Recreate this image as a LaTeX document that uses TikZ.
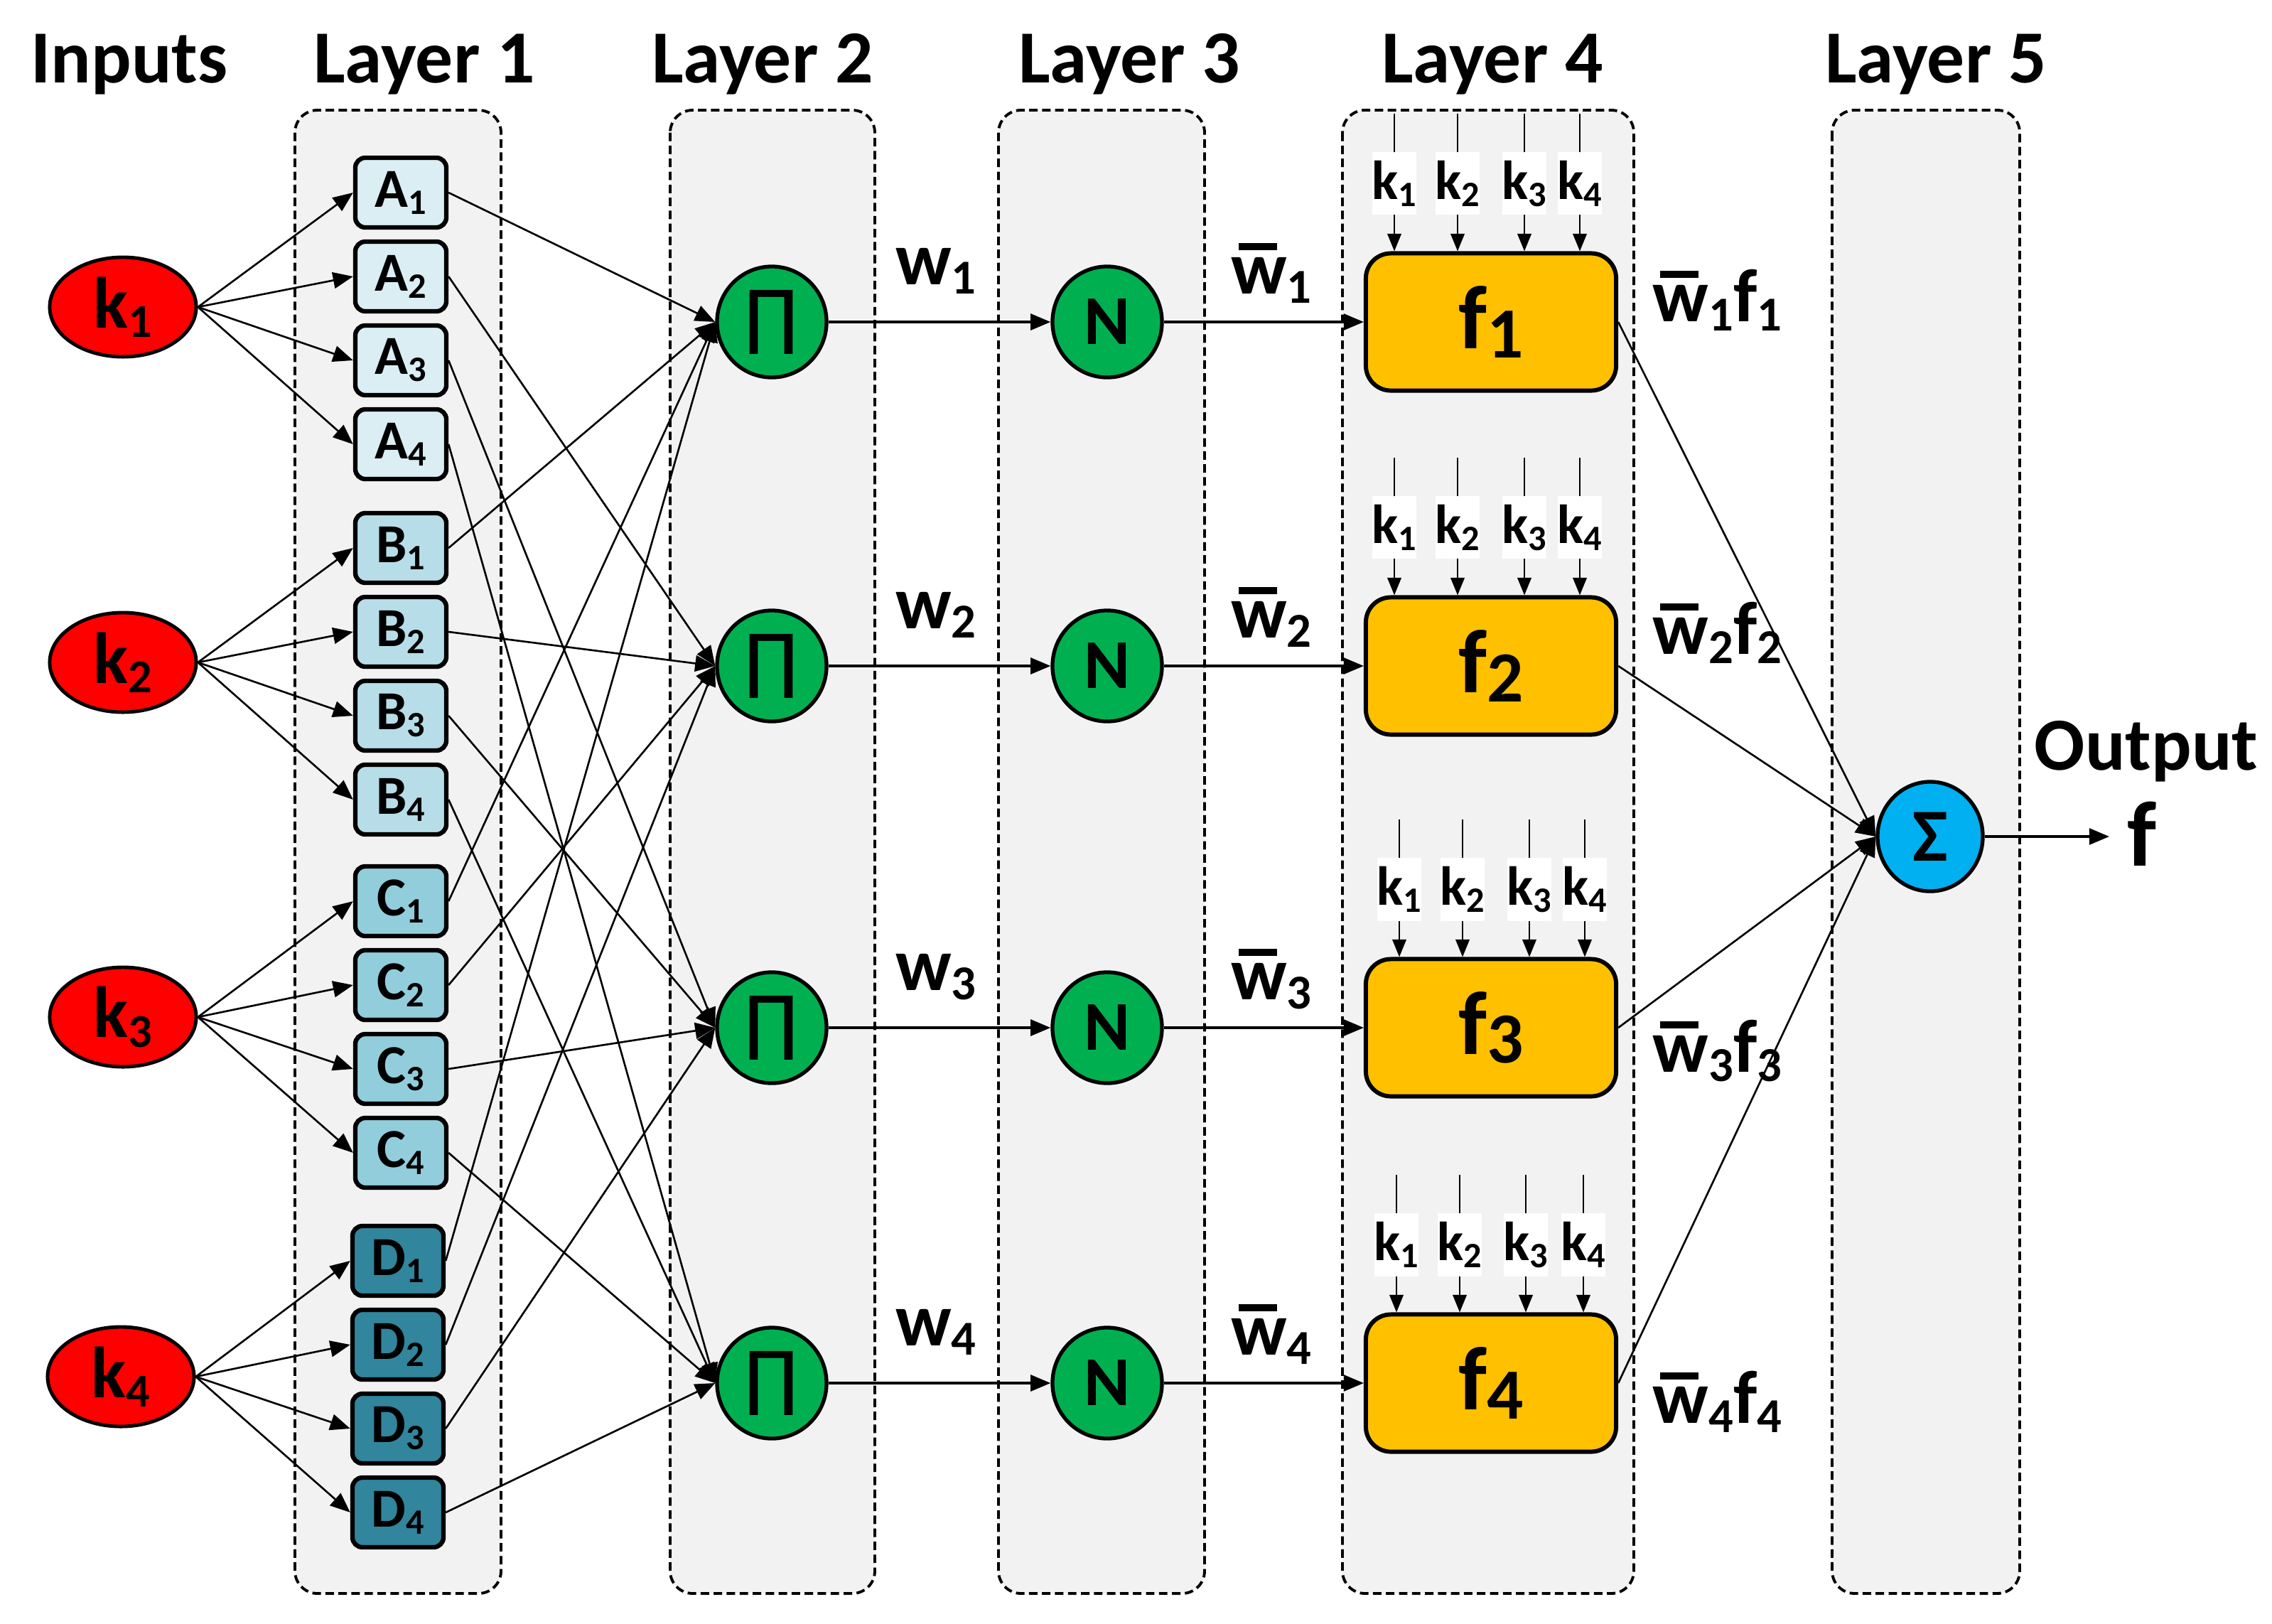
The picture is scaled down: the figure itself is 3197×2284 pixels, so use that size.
\documentclass[tikz,border=0pt]{standalone}
\usepackage{fontspec}
\setmainfont{Carlito}
\newfontfamily\djv{DejaVu Sans}
\usetikzlibrary{arrows.meta,shapes.geometric,calc}
\definecolor{layergray}{HTML}{F2F2F2}
\definecolor{inred}{HTML}{FF0000}
\definecolor{rulegreen}{HTML}{00B050}
\definecolor{forange}{HTML}{FFC000}
\definecolor{sblue}{HTML}{00B0F0}
\definecolor{cA}{HTML}{DAEEF3}
\definecolor{cB}{HTML}{B7DEE8}
\definecolor{cC}{HTML}{92CDDC}
\definecolor{cD}{HTML}{31859C}
\newcommand\sbs[1]{\raisebox{-0.13em}{\scalebox{0.65}{#1}}}
\newcommand\sbf[1]{\raisebox{-0.1em}{\scalebox{0.8}{#1}}}
\newcommand\wbar{\makebox[0pt][l]{\hspace{0.1em}\rule[0.58em]{0.51em}{0.09em}}w}
\newcommand\prodglyph{\resizebox*{0.76cm}{0.9cm}{\djv\mdseries ∏}}
\tikzset{
  fs/.style={font=\fontsize{#1}{#1}\selectfont\bfseries},
  layerbox/.style={draw, line width=1.1pt, dash pattern=on 3.4pt off 1.8pt, fill=layergray, rounded corners=9pt},
  title/.style={fs=30, anchor=base, inner sep=0pt},
  inp/.style={ellipse, draw, line width=1.4pt, fill=inred, minimum width=2.06cm, minimum height=1.4cm, inner sep=0pt, fs=29},
  mf/.style={rectangle, rounded corners=4pt, draw, line width=1.8pt, minimum width=1.28cm, minimum height=0.98cm, inner sep=0pt, fs=22},
  rulenode/.style={ellipse, draw, line width=1.5pt, fill=rulegreen, minimum width=1.54cm, minimum height=1.56cm, inner sep=0pt},
  fbox/.style={rectangle, rounded corners=10pt, draw, line width=1.7pt, fill=forange, minimum width=3.52cm, minimum height=1.93cm, inner sep=0pt, fs=36},
  sumnode/.style={ellipse, draw, line width=1.5pt, fill=sblue, minimum width=1.48cm, minimum height=1.54cm, inner sep=0pt, fs=30},
  klabel/.style={fill=white, minimum width=0.56cm, minimum height=0.88cm, inner sep=0pt, fs=22},
  lab/.style={fs=30, inner sep=0pt},
  arr/.style={-{Triangle[length=8pt,width=6.5pt]}},
  edge/.style={arr, line width=0.75pt},
  hedge/.style={arr, line width=0.9pt},
  karr/.style={-{Triangle[length=7pt,width=5.5pt]}, line width=0.8pt},
}
\begin{document}
\begin{tikzpicture}[x=0.01cm,y=-0.01cm]
\useasboundingbox (0,0) rectangle (3197,2284);
% layer boxes
\path[layerbox] (415,155) rectangle (705,2242);
\path[layerbox] (943,155) rectangle (1231,2242);
\path[layerbox] (1405,155) rectangle (1695,2242);
\path[layerbox] (1889,155) rectangle (2299,2242);
\path[layerbox] (2578,155) rectangle (2842,2242);
% titles
\node[title] (tin) at (182,116) {Inputs};
\node[title] (tl1) at (597,116) {Layer 1};
\node[title] (tl2) at (1073,116) {Layer 2};
\node[title] (tl3) at (1589,116) {Layer 3};
\node[title] (tl4) at (2100,116) {Layer 4};
\node[title] (tl5) at (2724,116) {Layer 5};
% inputs
\node[inp] (k1) at (173,432) {k\sbs{1}};
\node[inp] (k2) at (173,932) {k\sbs{2}};
\node[inp] (k3) at (173,1431) {k\sbs{3}};
\node[inp] (k4) at (170,1937) {k\sbs{4}};
% membership boxes
\foreach \g/\y/\c/\x in {A/271/cA/564, B/771/cB/564, C/1268/cC/564, D/1774/cD/560}{
  \foreach \j in {1,...,4}{
    \node[mf, fill=\c] (\g\j) at (\x,{\y+118*(\j-1)}) {\g\sbs{\j}};
  }
}
% rows
\foreach \i/\y in {1/453,2/937,3/1446,4/1946}{
  \node[rulenode] (P\i) at (1086,\y) {\prodglyph};
  \node[rulenode, fs=28] (N\i) at (1558,\y) {N};
  \node[fbox] (F\i) at (2098,\y) {f\sbf{\i}};
}
\node[sumnode] (S) at (2716,1177) {Σ};
\coordinate (out) at (2968,1177);
\node[lab, anchor=base] (outlab) at (3020,1083) {Output};
\node[fs=37, anchor=base, inner sep=0pt] (outf) at (3014,1218) {f};
% input -> mf
\foreach \g/\k in {A/1,B/2,C/3,D/4}{
  \foreach \j in {1,...,4}{
    \draw[edge] (k\k.east) -- (\g\j.west);
  }
}
% mf -> rules, rules -> norm -> consequent -> sum
\foreach \i in {1,...,4}{
  \foreach \g in {A,B,C,D}{
    \draw[edge] (\g\i.east) -- (P\i.west);
  }
  \draw[hedge] (P\i.east) -- (N\i.west);
  \draw[hedge] (N\i.east) -- (F\i.west);
  \draw[edge] (F\i.east) -- (S.west);
}
\draw[hedge] (S.east) -- (out);
% weight labels
\foreach \i/\y in {1/453,2/937,3/1446,4/1946}{
  \node[lab, anchor=base] (w\i) at (1317,{\y-53}) {w\sbs{\i}};
  \node[lab, anchor=base] (wb\i) at (1789,{\y-40}) {\wbar\sbs{\i}};
}
\node[lab, anchor=base west] (wf1) at (2325,452) {\wbar\sbs{1}f\sbs{1}};
\node[lab, anchor=base west] (wf2) at (2325,920) {\wbar\sbs{2}f\sbs{2}};
\node[lab, anchor=base west] (wf3) at (2325,1508) {\wbar\sbs{3}f\sbs{3}};
\node[lab, anchor=base west] (wf4) at (2325,2002) {\wbar\sbs{4}f\sbs{4}};
% k inputs to consequent boxes
\foreach \r/\xa/\xb/\xc/\xd in {1/1962/2051/2145/2223, 2/1962/2051/2145/2223, 3/1969/2058/2152/2230, 4/1965/2054/2147/2228}{
  \foreach \j/\xx in {1/\xa,2/\xb,3/\xc,4/\xd}{
    \coordinate (b\r\j) at (F\r.north -| \xx,0);
    \coordinate (t\r\j) at ($(b\r\j)+(0,-193)$);
    \draw[karr] (t\r\j) -- (b\r\j);
    \node[klabel] (kl\r\j) at ($(b\r\j)+(0,-95)$) {k\sbs{\j}};
  }
}
\end{tikzpicture}
\end{document}
